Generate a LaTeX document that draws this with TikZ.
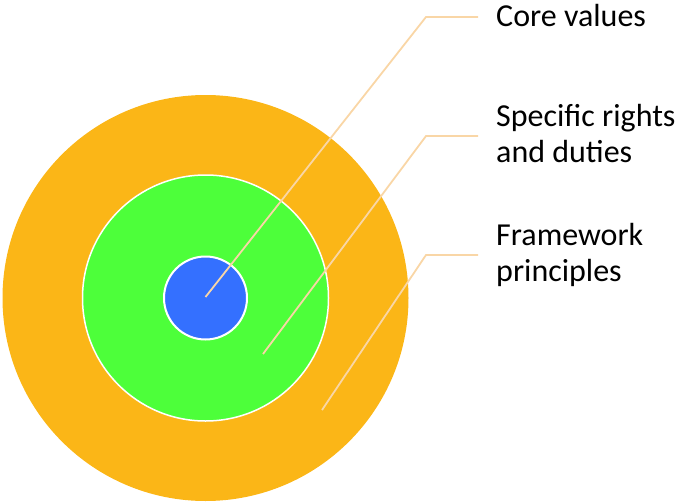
\documentclass[tikz,border=0pt]{standalone}
\usepackage{fontspec}
\setmainfont{Carlito}
\definecolor{outerc}{HTML}{FBB617}
\definecolor{midc}{HTML}{4DFF3A}
\definecolor{innerc}{HTML}{3470FF}
\definecolor{leadc}{HTML}{F9D6A6}
\begin{document}
\begin{tikzpicture}[x=1pt,y=-1pt,
  ring/.style={circle,inner sep=0pt,draw=white},
  leader/.style={draw=leadc,line width=1.8pt},
  label/.style={anchor=base west,inner sep=0pt,align=left,font=\fontsize{32}{36}\selectfont}]
\useasboundingbox (0,0) rectangle (685,503);
\node[ring,fill=outerc,draw=none,minimum size=406pt] (outer) at (205.5,298) {};
\node[ring,fill=midc,line width=1.5pt,minimum size=246pt] (mid) at (205.5,298) {};
\node[ring,fill=innerc,line width=2pt,minimum size=83pt] (inner) at (205.5,298) {};
\coordinate (p1) at (205.5,297);
\coordinate (p2) at (263,354);
\coordinate (p3) at (322,410);
\coordinate (k1) at (426,17);
\coordinate (k2) at (426,136);
\coordinate (k3) at (426,255);
\coordinate (e1) at (478,17);
\coordinate (e2) at (478,136);
\coordinate (e3) at (478,255);
\draw[leader] (p1) -- (k1) -- (e1);
\draw[leader] (p2) -- (k2) -- (e2);
\draw[leader] (p3) -- (k3) -- (e3);
\node[label] (t1) at (496,26.7) {Core values};
\node[label] (t2) at (496,162.7) {Specific rights\\and duties};
\node[label] (t3) at (496,281) {Framework\\principles};
\end{tikzpicture}
\end{document}
